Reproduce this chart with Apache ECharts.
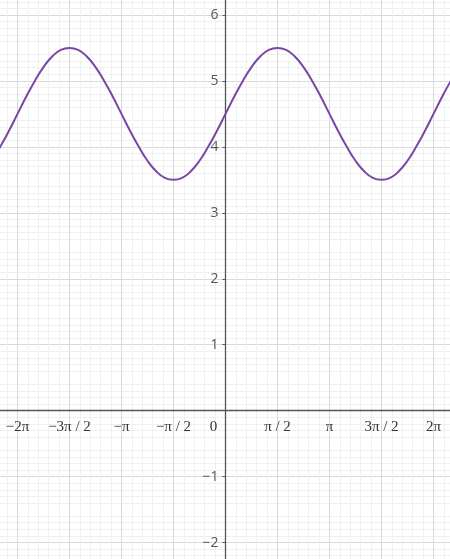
<!DOCTYPE html>
<html>
<head>
<meta charset="utf-8">
<script src="https://cdn.jsdelivr.net/npm/echarts@6/dist/echarts.min.js"></script>
<style>
  html, body { margin: 0; padding: 0; background: #fff; }
  #main { width: 450px; height: 559px; }
</style>
</head>
<body>
<div id="main"></div>
<script>
// sample points every pi/12, k = -27 .. 27
var steps = [-27,-26,-25,-24,-23,-22,-21,-20,-19,-18,-17,-16,-15,-14,-13,-12,-11,-10,-9,-8,-7,-6,-5,-4,-3,-2,-1,
             0,1,2,3,4,5,6,7,8,9,10,11,12,13,14,15,16,17,18,19,20,21,22,23,24,25,26,27];
var yValues = [3.79,4.0,4.24,4.5,4.76,5.0,5.21,5.37,5.47,5.5,5.47,5.37,5.21,5.0,4.76,4.5,4.24,4.0,3.79,3.63,3.53,3.5,3.53,3.63,3.79,4.0,4.24,
               4.5,4.76,5.0,5.21,5.37,5.47,5.5,5.47,5.37,5.21,5.0,4.76,4.5,4.24,4.0,3.79,3.63,3.53,3.5,3.53,3.63,3.79,4.0,4.24,4.5,4.76,5.0,5.21];

// x tick labels, keyed by multiples of pi/2
var xTickKeys = [-4,-3,-2,-1,0,1,2,3,4];
var xTickLabels = ['\u22122\u03c0','\u22123\u03c0 / 2','\u2212\u03c0','\u2212\u03c0 / 2','0','\u03c0 / 2','\u03c0','3\u03c0 / 2','2\u03c0'];
var yTickValues = [-2,-1,1,2,3,4,5,6];

var HALF_PI = Math.PI / 2;
var SERIF = '"Liberation Serif", "DejaVu Serif", serif';
var points = [];
for (var i = 0; i < steps.length; i++) {
	points.push([steps[i] * Math.PI / 12, yValues[i]]);
}

var myChart = echarts.init(document.getElementById('main'));

// grid runs past the window so that the split lines land on multiples of the interval;
// axes are pulled back to the origin with offset
myChart.setOption({
	backgroundColor: '#ffffff',
	animation: false,
	grid: {
		left: -34.5,
		right: -35.5,
		top: -18,
		bottom: -16.5,
		containLabel: false,
		outerBoundsMode: 'none'
	},
	xAxis: {
		type: 'value',
		min: -5 * HALF_PI,
		max: 5 * HALF_PI,
		interval: HALF_PI,
		position: 'bottom',
		offset: -165,
		axisLine: { onZero: false, lineStyle: { color: '#555', width: 1.3 } },
		axisTick: { show: false },
		axisLabel: {
			show: true,
			margin: 9,
			fontFamily: SERIF,
			fontSize: 15,
			color: '#333',
			formatter: function (v) {
				var k = Math.round(v / HALF_PI);
				var idx = xTickKeys.indexOf(k);
				if (idx < 0) return '';
				if (k === 0) return '{z|0}';
				return xTickLabels[idx];
			},
			rich: {
				z: { fontFamily: SERIF, fontSize: 15, color: '#333', padding: [0, 24, 0, 0] }
			}
		},
		splitLine: { show: true, lineStyle: { color: '#d9d9d9', width: 1 } },
		minorTick: { show: false, splitNumber: 5 },
		minorSplitLine: { show: true, lineStyle: { color: '#f0f0f0', width: 1 } }
	},
	yAxis: {
		type: 'value',
		min: -2.5,
		max: 6.5,
		interval: 0.5,
		position: 'left',
		offset: -260,
		axisLine: { onZero: false, lineStyle: { color: '#555', width: 1.3 } },
		axisTick: { show: true, length: 3, customValues: yTickValues, lineStyle: { color: '#555' } },
		axisLabel: {
			show: true,
			margin: 7,
			fontFamily: 'Open Sans',
			fontSize: 14,
			color: '#555',
			formatter: function (v) {
				if (yTickValues.indexOf(v) < 0) return '';
				return v < 0 ? '\u2212' + Math.abs(v) : String(v);
			}
		},
		splitLine: { show: true, lineStyle: { color: '#d9d9d9', width: 1 } },
		minorTick: { show: false, splitNumber: 5 },
		minorSplitLine: { show: true, lineStyle: { color: '#f0f0f0', width: 1 } }
	},
	series: [{
		type: 'line',
		data: points,
		smooth: true,
		showSymbol: false,
		lineStyle: { color: '#7a45a8', width: 2 },
		itemStyle: { color: '#7a45a8' }
	}]
});
</script>
</body>
</html>
